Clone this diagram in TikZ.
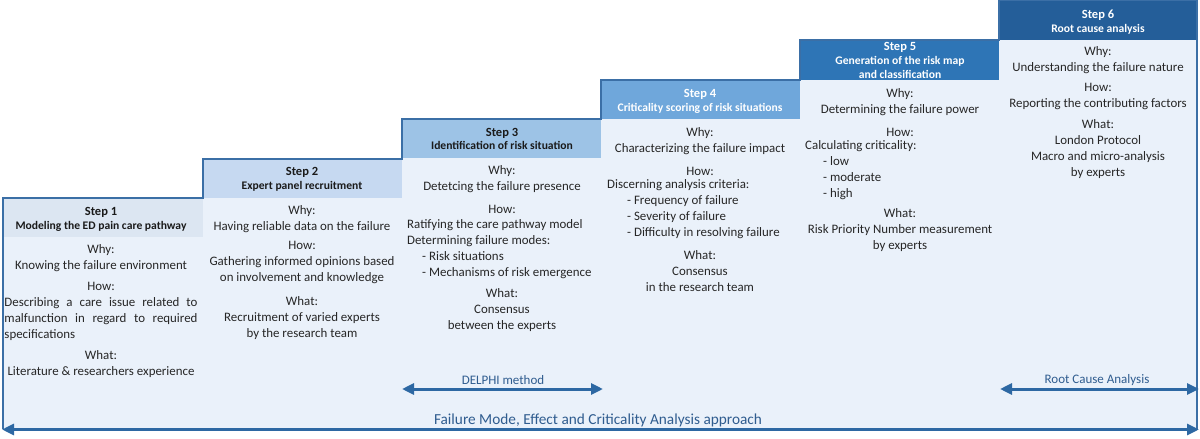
\documentclass[tikz,border=0pt]{standalone}
\usepackage{fontspec}
\setmainfont{Carlito}
\usetikzlibrary{arrows.meta}
\definecolor{bgfill}{HTML}{EAF1FA}
\definecolor{hA}{HTML}{DCE6F2}
\definecolor{hB}{HTML}{C6D9F1}
\definecolor{hC}{HTML}{9DC3E6}
\definecolor{hD}{HTML}{6FA7DB}
\definecolor{hE}{HTML}{2E75B6}
\definecolor{hF}{HTML}{245E99}
\definecolor{edgec}{HTML}{3B6FA6}
\definecolor{arrowc}{HTML}{2D68A3}
\definecolor{labc}{HTML}{2F5C8F}
\definecolor{bodyc}{HTML}{262626}
\definecolor{headc}{HTML}{1A1A1A}
\newcommand\mystepfont{\bfseries\fontsize{12.5}{14}\selectfont}
\begin{document}
\begin{tikzpicture}[x=1pt,y=-1pt,
  body/.style={font=\fontsize{12.9}{16}\selectfont, text=bodyc, inner sep=0pt, align=center},
  bodyl/.style={body, align=left, anchor=west},
  head/.style={font=\bfseries\fontsize{11.6}{13.8}\selectfont, inner sep=0pt, align=center},
  headdark/.style={head, text=headc},
  headlight/.style={head, text=white},
  bigarrow/.style={draw=arrowc, line width=3pt, {Triangle[length=12pt,width=11pt]}-{Triangle[length=12pt,width=11pt]}},
  arrowlab/.style={font=\fontsize{13}{15}\selectfont, text=labc, inner sep=0pt},
  mainlab/.style={font=\fontsize{15.3}{17}\selectfont, text=labc, inner sep=0pt}
]
\useasboundingbox (0,0) rectangle (1200,439);
% background staircase
\fill[bgfill] (3,429) -- (3,198) -- (203,198) -- (203,159) -- (402,159) -- (402,119) -- (601,119) -- (601,80) -- (800,80) -- (800,40) -- (999,40) -- (999,0) -- (1197,0) -- (1197,429) -- cycle;
% headers
\fill[hA] (3,198) rectangle (203,237);
\fill[hB] (203,159) rectangle (402,198);
\fill[hC] (402,119) rectangle (601,158);
\fill[hD] (601,80) rectangle (800,119);
\fill[hE] (800,40) rectangle (999,80);
\fill[hF] (999,0) rectangle (1197,40);
% outline
\draw[edgec, line width=1.2pt] (3,429) -- (3,198) -- (203,198) -- (203,159) -- (402,159) -- (402,119) -- (601,119) -- (601,80) -- (800,80) -- (800,40) -- (999,40) -- (999,0.6) -- (1197,0.6) -- (1197,429);

% Step 1
\node[headdark] (h1) at (101,219) {{\mystepfont Step 1}\\Modeling the ED pain care pathway};
\node[body] (why1) at (101,258) {Why:\\Knowing the failure environment};
\node[body] (how1) at (101,286) {How:};
\node[body, text width=193pt, align=justify] (how1b) at (101,319) {\hyphenpenalty=10000 Describing a care issue related to\linebreak malfunction in regard to required\linebreak specifications};
\node[body] (what1) at (101,364.5) {What:\\Literature \& researchers experience};

% Step 2
\node[headdark] (h2) at (302,179) {{\mystepfont Step 2}\\Expert panel recruitment};
\node[body] (why2) at (302,219) {Why:\\Having reliable data on the failure};
\node[body] (how2) at (302,262) {How:\\Gathering informed opinions based\\on involvement and knowledge};
\node[body] (what2) at (302,318) {What:\\Recruitment of varied experts\\by the research team};

% Step 3
\node[headdark] (h3) at (502,139) {{\mystepfont Step 3}\\Identification of risk situation};
\node[body] (why3) at (502,179.5) {Why:\\Detetcing the failure presence};
\node[body] (how3) at (502,209) {How:};
\node[bodyl] (how3b) at (407,249) {Ratifying the care pathway model\\Determining failure modes:\\\hspace*{15pt}- Risk situations\\\hspace*{15pt}- Mechanisms of risk emergence};
\node[body] (what3) at (502,310) {What:\\Consensus\\between the experts};

% Step 4
\node[headlight] (h4) at (700,101) {{\mystepfont Step 4}\\Criticality scoring of risk situations};
\node[body] (why4) at (700,141) {Why:\\Characterizing the failure impact};
\node[body] (how4) at (700,171) {How:};
\node[bodyl] (how4b) at (607,209.5) {Discerning analysis criteria:\\\hspace*{20pt}- Frequency of failure\\\hspace*{20pt}- Severity of failure\\\hspace*{20pt}- Difficulty in resolving failure};
\node[body] (what4) at (700,271) {What:\\Consensus\\in the research team};

% Step 5
\node[headlight] (h5) at (900,60.5) {{\mystepfont Step 5}\\Generation of the risk map\\and classification};
\node[body] (why5) at (900,102) {Why:\\Determining the failure power};
\node[body] (how5) at (900,132) {How:};
\node[bodyl] (how5b) at (805,170.5) {Calculating criticality:\\\hspace*{18pt}- low\\\hspace*{18pt}- moderate\\\hspace*{18pt}- high};
\node[body] (what5) at (900,230) {What:\\Risk Priority Number measurement\\by experts};

% Step 6
\node[headlight] (h6) at (1098,22) {{\mystepfont Step 6}\\Root cause analysis};
\node[body] (why6) at (1098,60.5) {Why:\\Understanding the failure nature};
\node[body] (how6) at (1098,96.5) {How:\\Reporting the contributing factors};
\node[body] (what6) at (1098,149) {What:\\London Protocol\\Macro and micro-analysis\\by experts};

% arrows
\coordinate (dl) at (402,389);
\coordinate (dr) at (603,389);
\draw[bigarrow] (dl) -- (dr);
\node[arrowlab] (dlab) at (503,380) {DELPHI method};
\coordinate (rl) at (1000,389);
\coordinate (rr) at (1199,389);
\draw[bigarrow] (rl) -- (rr);
\node[arrowlab] (rlab) at (1097,380.5) {Root Cause Analysis};
\coordinate (fl) at (2,429.5);
\coordinate (fr) at (1199,429.5);
\draw[bigarrow] (fl) -- (fr);
\node[mainlab] (flab) at (598,420) {Failure Mode, Effect and Criticality Analysis approach};
\end{tikzpicture}
\end{document}
